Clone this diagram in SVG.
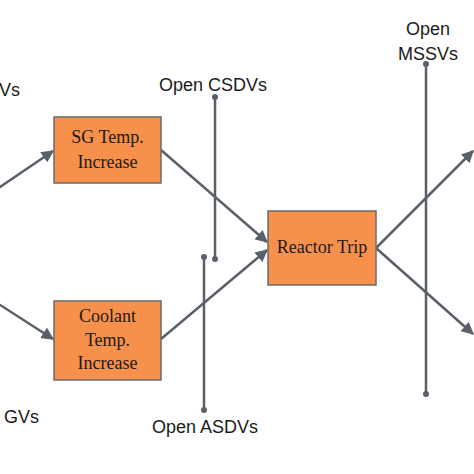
<svg xmlns="http://www.w3.org/2000/svg" width="474" height="474" viewBox="0 0 474 474">
<style>
.box{fill:#F7904A;stroke:#6A6A6A;stroke-width:1.5}
.bt{font-family:"Liberation Serif",serif;font-size:18px;fill:#1a1a1a;text-anchor:middle}
.lt{font-family:"Liberation Sans",Arial,sans-serif;font-size:18px;fill:#1a1a1a}
.ln{stroke:#596069;stroke-width:2.5;fill:none}
.dot{fill:#596069}
</style>
<defs>
<marker id="ah" viewBox="0 0 10 10" refX="9" refY="5" markerWidth="5" markerHeight="5" orient="auto" markerUnits="strokeWidth">
<path d="M0,0 L10,5 L0,10 z" fill="#596069"/>
</marker>
</defs>
<rect width="474" height="474" fill="#ffffff"/>
<g id="connectors">
<line class="ln" x1="-6" y1="191" x2="53" y2="151" marker-end="url(#ah)"/>
<line class="ln" x1="-6" y1="301" x2="53" y2="339" marker-end="url(#ah)"/>
<line class="ln" x1="161" y1="150" x2="267" y2="242" marker-end="url(#ah)"/>
<line class="ln" x1="161" y1="339" x2="267" y2="250" marker-end="url(#ah)"/>
<line class="ln" x1="376" y1="248" x2="473" y2="151" marker-end="url(#ah)"/>
<line class="ln" x1="376" y1="248" x2="473" y2="334" marker-end="url(#ah)"/>
<line class="ln" x1="215" y1="97" x2="215" y2="259"/>
<circle class="dot" cx="215" cy="97" r="3"/>
<circle class="dot" cx="215" cy="259" r="3"/>
<line class="ln" x1="204" y1="257" x2="204" y2="410"/>
<circle class="dot" cx="204" cy="257" r="3"/>
<circle class="dot" cx="204" cy="410" r="3"/>
<line class="ln" x1="426" y1="64" x2="426" y2="394"/>
<circle class="dot" cx="426" cy="64" r="3"/>
<circle class="dot" cx="426" cy="394" r="3"/>
</g>
<g id="sg-temp">
<rect class="box" x="54" y="117" width="107" height="66"/>
<text class="bt" x="107.5" y="143">SG Temp.</text>
<text class="bt" x="107.5" y="168">Increase</text>
</g>
<g id="coolant-temp">
<rect class="box" x="54" y="301" width="107" height="79"/>
<text class="bt" x="107.5" y="322">Coolant</text>
<text class="bt" x="107.5" y="346">Temp.</text>
<text class="bt" x="107.5" y="369">Increase</text>
</g>
<g id="reactor-trip">
<rect class="box" x="268" y="211" width="108" height="74"/>
<text class="bt" x="322" y="253">Reactor Trip</text>
</g>
<g id="labels">
<text class="lt" x="-1" y="96">Vs</text>
<text class="lt" x="4" y="423">GVs</text>
<text class="lt" x="213" y="91" text-anchor="middle">Open CSDVs</text>
<text class="lt" x="205" y="433" text-anchor="middle">Open ASDVs</text>
<text class="lt" x="428" y="35" text-anchor="middle">Open</text>
<text class="lt" x="428" y="60" text-anchor="middle">MSSVs</text>
</g>
</svg>
